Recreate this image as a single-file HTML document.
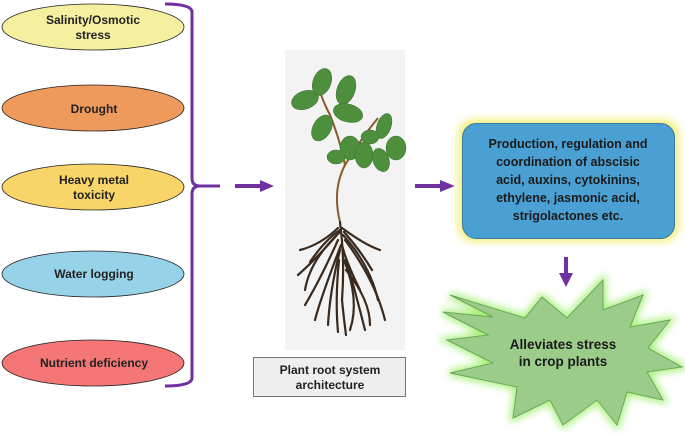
<!DOCTYPE html>
<html><head><style>
body{margin:0;width:685px;height:435px;background:#fff;overflow:hidden;font-family:"Liberation Sans",sans-serif}
</style></head><body>
<svg width="685" height="435" xmlns="http://www.w3.org/2000/svg" style="position:absolute;left:0;top:0">
<defs>
<filter id="g" x="-20%" y="-20%" width="140%" height="140%"><feGaussianBlur stdDeviation="4"/></filter>
</defs>
<g stroke="#222" stroke-width="0.8">
<ellipse cx="93" cy="27" rx="91" ry="23" fill="#f4f0a0"/>
<ellipse cx="93" cy="108" rx="91" ry="23" fill="#ef9a5d"/>
<ellipse cx="93" cy="187" rx="91" ry="23" fill="#f9d468"/>
<ellipse cx="93" cy="274" rx="91" ry="23" fill="#96d3e9"/>
<ellipse cx="93" cy="363" rx="91" ry="23" fill="#f47676"/>
</g>
<g font-family="Liberation Sans" font-weight="bold" font-size="12" text-anchor="middle" fill="#222">
<text x="93" y="24">Salinity/Osmotic</text><text x="93" y="39">stress</text>
<text x="94" y="113">Drought</text>
<text x="94" y="184">Heavy metal</text><text x="94" y="199">toxicity</text>
<text x="94" y="278">Water logging</text>
<text x="94" y="367">Nutrient deficiency</text>
</g>
<path d="M165 4 Q192 4 192 12 L192 178 Q192 186 200 186 L220 186 M200 186 Q192 186 192 194 L192 378 Q192 386 165 386" fill="none" stroke="#7030a0" stroke-width="3"/>
<path d="M235 186 H262" stroke="#7030a0" stroke-width="4"/><polygon points="260,180 274,186 260,192" fill="#7030a0"/>
<path d="M415 186 H442" stroke="#7030a0" stroke-width="4"/><polygon points="440,180 455,186 440,192" fill="#7030a0"/>
<rect x="285" y="50" width="120" height="300" fill="#f3f3f3"/>
<g fill="none" stroke="#8a5a2a" stroke-width="2">
<path d="M340 222 Q332 190 345 165 Q340 140 330 115 Q322 100 318 85"/>
<path d="M345 165 Q360 140 378 118"/>
</g>
<g fill="#4e8f3e" stroke="#3a6f2e" stroke-width="0.5">
<ellipse cx="305" cy="100" rx="14" ry="9" transform="rotate(-20 305 100)"/>
<ellipse cx="322" cy="82" rx="9" ry="14" transform="rotate(20 322 82)"/>
<ellipse cx="346" cy="90" rx="9" ry="15" transform="rotate(20 346 90)"/>
<ellipse cx="348" cy="113" rx="15" ry="9" transform="rotate(15 348 113)"/>
<ellipse cx="322" cy="128" rx="9" ry="14" transform="rotate(30 322 128)"/>
<ellipse cx="350" cy="148" rx="10" ry="12"/>
<ellipse cx="336" cy="157" rx="9" ry="7"/>
<ellipse cx="384" cy="126" rx="7" ry="13" transform="rotate(20 384 126)"/>
<ellipse cx="396" cy="148" rx="10" ry="12"/>
<ellipse cx="370" cy="137" rx="9" ry="7"/>
<ellipse cx="364" cy="155" rx="9" ry="13"/>
<ellipse cx="381" cy="160" rx="8" ry="12" transform="rotate(-20 381 160)"/>
</g>
<g fill="none" stroke="#3a2a1e" stroke-width="2.2" stroke-linecap="round">
<path d="M340 222 Q345 260 342 300 Q344 320 346 335"/>
<path d="M338 228 Q320 245 300 250"/><path d="M340 232 Q310 260 305 290"/>
<path d="M342 228 Q365 245 380 250"/><path d="M343 235 Q370 265 378 300"/>
<path d="M338 240 Q320 280 305 305"/><path d="M342 245 Q355 290 365 330"/>
<path d="M340 250 Q330 290 328 325"/><path d="M345 240 Q375 280 385 320"/>
<path d="M336 236 Q315 260 298 275"/><path d="M344 260 Q360 300 350 330"/>
<path d="M340 230 Q325 240 310 262"/><path d="M344 232 Q360 250 372 270"/>
<path d="M341 245 Q320 300 315 320"/><path d="M343 250 Q350 270 360 290"/>
<path d="M339 260 Q335 300 338 332"/><path d="M346 270 Q370 300 370 325"/>
</g>
<rect x="253.5" y="357.5" width="152" height="39" fill="#eeeeee" stroke="#777"/>
<text x="330" y="374" font-size="12" font-weight="bold" text-anchor="middle" fill="#222">Plant root system</text>
<text x="330" y="389" font-size="12" font-weight="bold" text-anchor="middle" fill="#222">architecture</text>
<rect x="458" y="119" width="221" height="123" rx="16" fill="#f5f07a" filter="url(#g)"/>
<rect x="462.5" y="123.5" width="212" height="115" rx="14" fill="#4aa0d3" stroke="#3a7aa5"/>
<g font-family="Liberation Sans" font-weight="bold" font-size="12.5" text-anchor="middle" fill="#1a1a1a">
<text x="568" y="148">Production, regulation and</text>
<text x="568" y="166">coordination of abscisic</text>
<text x="568" y="184">acid, auxins, cytokinins,</text>
<text x="568" y="202">ethylene, jasmonic acid,</text>
<text x="568" y="220">strigolactones etc.</text>
</g>
<path d="M566 257 V274" stroke="#7030a0" stroke-width="4"/><polygon points="559,273 573,273 566,287" fill="#7030a0"/>
<polygon points="450,295 525,318 542,297 567,318 603,280 603,310 643,295 630,327 670,320 648,348 682,367 647,372 663,400 627,392 617,425 597,400 563,425 550,400 513,418 517,387 450,373 493,363 447,340 488,335 443,312 493,317" fill="#a8f07a" stroke="#a8f07a" stroke-width="6" filter="url(#g)"/>
<polygon points="450,295 525,318 542,297 567,318 603,280 603,310 643,295 630,327 670,320 648,348 682,367 647,372 663,400 627,392 617,425 597,400 563,425 550,400 513,418 517,387 450,373 493,363 447,340 488,335 443,312 493,317" fill="#9ccc8a" stroke="#6aa858" stroke-width="1"/>
<text x="563" y="349" font-size="13.5" font-weight="bold" text-anchor="middle" fill="#1a1a1a">Alleviates stress</text>
<text x="563" y="366" font-size="13.5" font-weight="bold" text-anchor="middle" fill="#1a1a1a">in crop plants</text>
</svg>
</body></html>
